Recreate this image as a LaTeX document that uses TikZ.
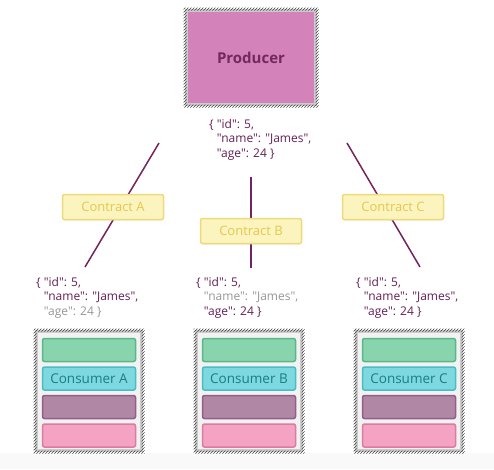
\documentclass[tikz,border=0pt]{standalone}
\usepackage{fontspec}
\setmainfont{Open Sans}[Ligatures=TeXOff]
\usetikzlibrary{positioning,patterns,shadows}

\definecolor{prodfill}{RGB}{212,130,186}
\definecolor{prodtext}{RGB}{115,40,95}
\definecolor{linkcol}{RGB}{115,35,95}
\definecolor{jsondark}{RGB}{100,30,85}
\definecolor{jsongrey}{RGB}{150,150,150}
\definecolor{contfill}{RGB}{252,244,190}
\definecolor{contdraw}{RGB}{238,218,120}
\definecolor{conttext}{RGB}{228,200,80}
\definecolor{greenfill}{RGB}{136,212,172}
\definecolor{greendraw}{RGB}{90,184,136}
\definecolor{cyanfill}{RGB}{126,216,224}
\definecolor{cyandraw}{RGB}{70,190,200}
\definecolor{cyantext}{RGB}{25,125,135}
\definecolor{mauvefill}{RGB}{176,135,165}
\definecolor{mauvedraw}{RGB}{145,95,135}
\definecolor{pinkfill}{RGB}{244,163,195}
\definecolor{pinkdraw}{RGB}{222,122,162}

\newcommand{\hatchbox}[1]{\fill[pattern=north east lines, pattern color=black!75, even odd rule]
  ([shift={(-1.5pt,1.5pt)}]#1.north west) rectangle ([shift={(1.5pt,-1.5pt)}]#1.south east)
  ([shift={(1.5pt,-1.5pt)}]#1.north west) rectangle ([shift={(-1.5pt,1.5pt)}]#1.south east);}

\begin{document}
\begin{tikzpicture}[x=1pt, y=-1pt,
						producer/.style={rectangle, fill=prodfill, draw=gray!40, line width=3pt, minimum width=129pt, minimum height=94pt, inner sep=0pt, font=\fontsize{15}{18}\selectfont\bfseries, text=prodtext},
						contract/.style={rectangle, rounded corners=2pt, fill=contfill, draw=contdraw, line width=1.5pt, minimum width=101pt, minimum height=25pt, inner sep=0pt, font=\fontsize{13}{15}\selectfont, text=conttext, drop shadow={opacity=0.15, shadow xshift=0pt, shadow yshift=-1pt}},
						consumer/.style={rectangle, fill=gray!10, draw=gray!40, line width=3pt, minimum width=105pt, minimum height=119pt, inner sep=0pt},
						slot/.style={rectangle, rounded corners=2pt, line width=1.5pt, minimum width=93pt, minimum height=23pt, inner sep=0pt},
						green/.style={slot, fill=greenfill, draw=greendraw},
						named/.style={slot, fill=cyanfill, draw=cyandraw, text=cyantext, font=\fontsize{13.5}{16}\selectfont},
						mauve/.style={slot, fill=mauvefill, draw=mauvedraw},
						pink/.style={slot, fill=pinkfill, draw=pinkdraw},
						json/.style={anchor=north west, align=left, inner sep=0pt, font=\fontsize{12}{14.5}\selectfont, text=jsondark}
					]
					\useasboundingbox (0,0) rectangle (494,469);
					\fill[gray!5] (0,453) rectangle (494,469);
					\coordinate (a1) at (159,143);
					\coordinate (a2) at (85,267);
					\coordinate (b1) at (251,177);
					\coordinate (b2) at (251,268);
					\coordinate (c1) at (347,143);
					\coordinate (c2) at (420,267);
					\begin{scope}[line width=1.5pt, linkcol]
					\draw (a1) -- (a2);
					\draw (b1) -- (b2);
					\draw (c1) -- (c2);
					\end{scope}
					\node[producer] (prod) at (251,57.5) {Producer};
					\node[json] (msg) at (209,119) {\{ "id": 5,\\\phantom{\{ }"name": "James",\\\phantom{\{ }"age": 24 \}};
					\node[contract] (conA) at (113,207) {Contract A};
					\node[contract] (conB) at (251,231) {Contract B};
					\node[contract] (conC) at (393,207) {Contract C};
					\node[json] (msgA) at (36,277) {\{ "id": 5,\\\phantom{\{ }"name": "James",\\\phantom{\{ }\textcolor{jsongrey}{"age": 24 \}}};
					\node[json] (msgB) at (196,277) {\{ "id": 5,\\\phantom{\{ }\textcolor{jsongrey}{"name": "James",}\\\phantom{\{ }"age": 24 \}};
					\node[json] (msgC) at (356,277) {\{ "id": 5,\\\phantom{\{ }"name": "James",\\\phantom{\{ }"age": 24 \}};
					% consumer A
					\node[consumer] (boxA) at (89,391) {};
					\node[green] (topA) at (89,350) {};
					\node[named] (nameA) [below=4pt of topA] {Consumer A};
					\node[mauve] (midA) [below=4pt of nameA] {};
					\node[pink] (lowA) [below=4pt of midA] {};
					% consumer B
					\node[consumer] (boxB) at (249,391) {};
					\node[green] (topB) at (249,350) {};
					\node[named] (nameB) [below=4pt of topB] {Consumer B};
					\node[mauve] (midB) [below=4pt of nameB] {};
					\node[pink] (lowB) [below=4pt of midB] {};
					% consumer C
					\node[consumer] (boxC) at (409,391) {};
					\node[green] (topC) at (409,350) {};
					\node[named] (nameC) [below=4pt of topC] {Consumer C};
					\node[mauve] (midC) [below=4pt of nameC] {};
					\node[pink] (lowC) [below=4pt of midC] {};
					\hatchbox{prod}
					\hatchbox{boxA}
					\hatchbox{boxB}
					\hatchbox{boxC}
					\end{tikzpicture}
\end{document}
